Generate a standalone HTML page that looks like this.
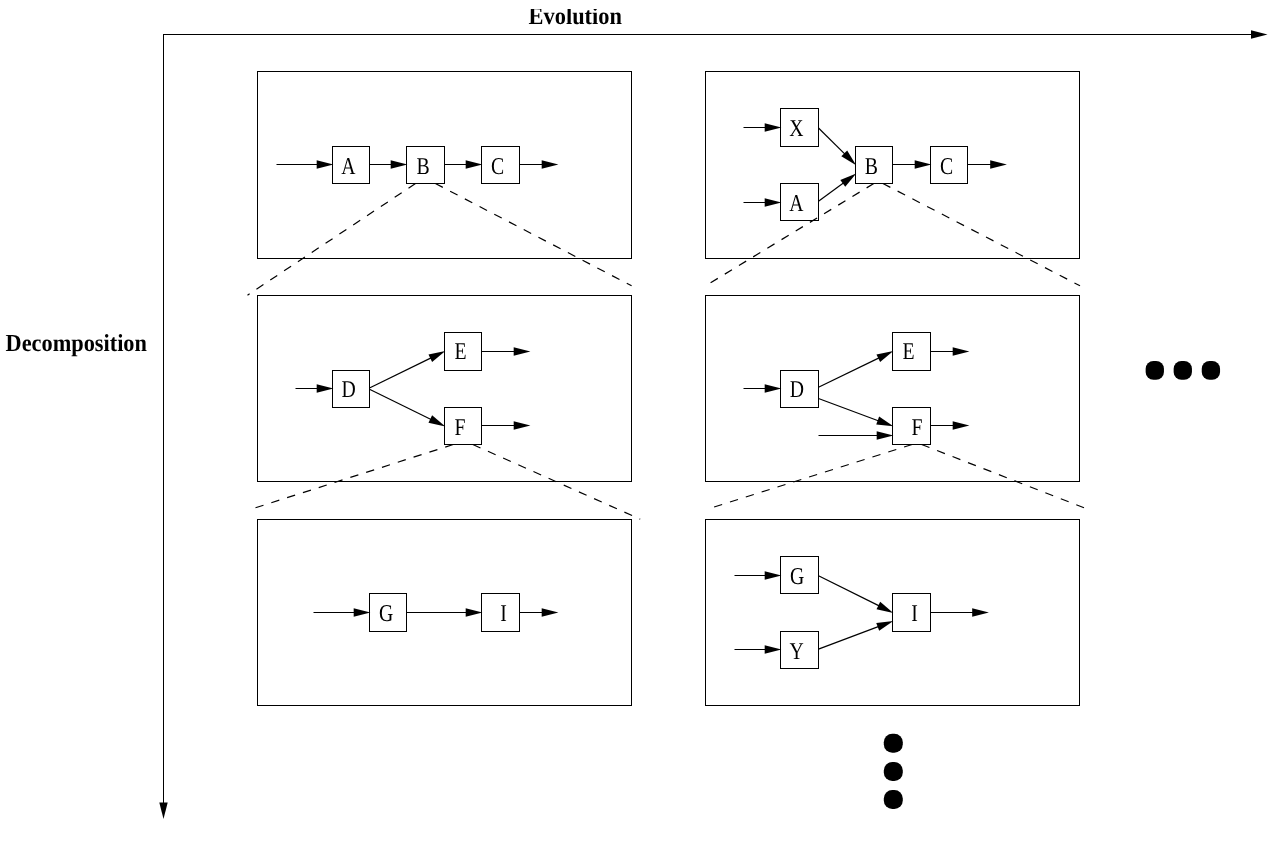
<!DOCTYPE html>
<html><head><meta charset="utf-8"><title>Evolution / Decomposition</title>
<style>
html,body{margin:0;padding:0;background:#fff;}
body{width:1275px;height:853px;overflow:hidden;}
svg{display:block;will-change:transform;}
svg text{font-family:"Liberation Serif",serif;fill:#000;stroke:none;}
</style></head><body>
<svg width="1275" height="853" viewBox="0 0 1275 853" stroke="#000" stroke-width="1" fill="none">
<defs><clipPath id="evc"><rect x="500" y="9" width="160" height="30"/></clipPath></defs>
<rect x="0" y="0" width="1275" height="853" fill="#fff" stroke="none"/>
<line x1="163.5" y1="34.5" x2="1253" y2="34.5" />
<polygon points="1267.5,34.5 1251,30.2 1251,38.8" fill="#000" stroke="none"/>
<line x1="163.5" y1="34" x2="163.5" y2="804" />
<polygon points="163.5,819 159.3,802.5 167.7,802.5" fill="#000" stroke="none"/>
<rect x="257.5" y="71.5" width="374.0" height="187.0" fill="none"/>
<rect x="257.5" y="295.5" width="374.0" height="186.0" fill="none"/>
<rect x="257.5" y="519.5" width="374.0" height="186.0" fill="none"/>
<rect x="705.5" y="71.5" width="374.0" height="187.0" fill="none"/>
<rect x="705.5" y="295.5" width="374.0" height="186.0" fill="none"/>
<rect x="705.5" y="519.5" width="374.0" height="186.0" fill="none"/>
<rect x="332.5" y="146.5" width="37.0" height="37.0" fill="none"/>
<text transform="translate(341.20,173.70) rotate(0.03) scale(0.82,1)" font-size="24.1">A</text>
<rect x="406.5" y="146.5" width="38.0" height="37.0" fill="none"/>
<text transform="translate(416.40,173.70) rotate(0.03) scale(0.82,1)" font-size="24.1">B</text>
<rect x="481.5" y="146.5" width="38.0" height="37.0" fill="none"/>
<text transform="translate(490.90,173.70) rotate(0.03) scale(0.82,1)" font-size="24.1">C</text>
<line x1="276.5" y1="164.5" x2="318.7" y2="164.5" />
<polygon points="333.40,164.50 316.70,168.65 316.70,160.35" fill="#000" stroke="none"/>
<line x1="369.5" y1="164.5" x2="392.7" y2="164.5" />
<polygon points="407.40,164.50 390.70,168.65 390.70,160.35" fill="#000" stroke="none"/>
<line x1="444.5" y1="164.5" x2="467.7" y2="164.5" />
<polygon points="482.40,164.50 465.70,168.65 465.70,160.35" fill="#000" stroke="none"/>
<line x1="519.5" y1="164.5" x2="543.7" y2="164.5" />
<polygon points="558.40,164.50 541.70,168.65 541.70,160.35" fill="#000" stroke="none"/>
<line x1="415.5" y1="183.5" x2="247.5" y2="295.2" stroke-dasharray="8.4 8.2" stroke-width="1.2"/>
<line x1="435.4" y1="183.5" x2="631.6" y2="285.8" stroke-dasharray="8.4 8.2" stroke-width="1.2"/>
<rect x="780.5" y="108.5" width="38.0" height="38.0" fill="none"/>
<text transform="translate(789.20,135.70) rotate(0.03) scale(0.82,1)" font-size="24.1">X</text>
<rect x="780.5" y="183.5" width="38.0" height="37.0" fill="none"/>
<text transform="translate(789.20,210.70) rotate(0.03) scale(0.82,1)" font-size="24.1">A</text>
<rect x="855.5" y="146.5" width="37.0" height="37.0" fill="none"/>
<text transform="translate(864.70,173.70) rotate(0.03) scale(0.82,1)" font-size="24.1">B</text>
<rect x="930.5" y="146.5" width="37.0" height="37.0" fill="none"/>
<text transform="translate(939.90,173.70) rotate(0.03) scale(0.82,1)" font-size="24.1">C</text>
<line x1="743.5" y1="127.5" x2="766.7" y2="127.5" />
<polygon points="781.40,127.50 764.70,131.65 764.70,123.35" fill="#000" stroke="none"/>
<line x1="743.5" y1="202.5" x2="766.7" y2="202.5" />
<polygon points="781.40,202.50 764.70,206.65 764.70,198.35" fill="#000" stroke="none"/>
<line x1="818.5" y1="128" x2="845.68" y2="154.81"  stroke-width="1.2"/>
<polygon points="856.14,165.13 841.34,156.36 847.17,150.45" fill="#000" stroke="none"/>
<line x1="818.5" y1="201.3" x2="844.4" y2="182.19"  stroke-width="1.2"/>
<polygon points="856.22,173.47 845.25,186.72 840.32,180.04" fill="#000" stroke="none"/>
<line x1="892.5" y1="164.5" x2="916.7" y2="164.5" />
<polygon points="931.40,164.50 914.70,168.65 914.70,160.35" fill="#000" stroke="none"/>
<line x1="967.5" y1="164.5" x2="992.2" y2="164.5" />
<polygon points="1006.90,164.50 990.20,168.65 990.20,160.35" fill="#000" stroke="none"/>
<line x1="873.8" y1="183.5" x2="710.2" y2="283" stroke-dasharray="8.4 8.2" stroke-width="1.2"/>
<line x1="882.9" y1="183.5" x2="1080" y2="285.8" stroke-dasharray="8.4 8.2" stroke-width="1.2"/>
<rect x="332.5" y="370.5" width="37.0" height="37.0" fill="none"/>
<text transform="translate(341.40,397.10) rotate(0.03) scale(0.82,1)" font-size="24.1">D</text>
<rect x="444.5" y="332.5" width="37.0" height="38.0" fill="none"/>
<text transform="translate(454.40,359.40) rotate(0.03) scale(0.82,1)" font-size="24.1">E</text>
<rect x="444.5" y="407.5" width="37.0" height="37.0" fill="none"/>
<text transform="translate(454.40,434.70) rotate(0.03) scale(0.82,1)" font-size="24.1">F</text>
<line x1="295.5" y1="388.5" x2="318.7" y2="388.5" />
<polygon points="333.40,388.50 316.70,392.65 316.70,384.35" fill="#000" stroke="none"/>
<line x1="369.5" y1="388" x2="432.1" y2="357.37"  stroke-width="1.2"/>
<polygon points="445.31,350.90 432.13,361.97 428.48,354.52" fill="#000" stroke="none"/>
<line x1="369.5" y1="389.3" x2="432.1" y2="419.93"  stroke-width="1.2"/>
<polygon points="445.31,426.40 428.48,422.78 432.13,415.33" fill="#000" stroke="none"/>
<line x1="481.5" y1="351.5" x2="515.7" y2="351.5" />
<polygon points="530.40,351.50 513.70,355.65 513.70,347.35" fill="#000" stroke="none"/>
<line x1="481.5" y1="425.5" x2="515.7" y2="425.5" />
<polygon points="530.40,425.50 513.70,429.65 513.70,421.35" fill="#000" stroke="none"/>
<line x1="453.2" y1="444.5" x2="255.5" y2="507.8" stroke-dasharray="8.4 8.2" stroke-width="1.2"/>
<line x1="472.8" y1="444.5" x2="640.2" y2="519.2" stroke-dasharray="8.4 8.2" stroke-width="1.2"/>
<rect x="780.5" y="370.5" width="38.0" height="37.0" fill="none"/>
<text transform="translate(789.70,397.10) rotate(0.03) scale(0.82,1)" font-size="24.1">D</text>
<rect x="892.5" y="332.5" width="38.0" height="38.0" fill="none"/>
<text transform="translate(902.40,359.40) rotate(0.03) scale(0.82,1)" font-size="24.1">E</text>
<rect x="892.5" y="407.5" width="38.0" height="37.0" fill="none"/>
<text transform="translate(911.40,434.70) rotate(0.03) scale(0.82,1)" font-size="24.1">F</text>
<line x1="743.5" y1="388.5" x2="766.7" y2="388.5" />
<polygon points="781.40,388.50 764.70,392.65 764.70,384.35" fill="#000" stroke="none"/>
<line x1="818.5" y1="387.3" x2="880.09" y2="357.34"  stroke-width="1.2"/>
<polygon points="893.31,350.91 880.11,361.94 876.48,354.48" fill="#000" stroke="none"/>
<line x1="818.5" y1="398.5" x2="879.56" y2="421.19"  stroke-width="1.2"/>
<polygon points="893.34,426.31 876.24,424.39 879.14,416.61" fill="#000" stroke="none"/>
<line x1="818.5" y1="435.5" x2="878.7" y2="435.5" />
<polygon points="893.40,435.50 876.70,439.65 876.70,431.35" fill="#000" stroke="none"/>
<line x1="930.5" y1="351.5" x2="954.7" y2="351.5" />
<polygon points="969.40,351.50 952.70,355.65 952.70,347.35" fill="#000" stroke="none"/>
<line x1="930.5" y1="425.5" x2="954.7" y2="425.5" />
<polygon points="969.40,425.50 952.70,429.65 952.70,421.35" fill="#000" stroke="none"/>
<line x1="912.1" y1="444.5" x2="712.8" y2="507.4" stroke-dasharray="8.4 8.2" stroke-width="1.2"/>
<line x1="921.6" y1="444.5" x2="1084" y2="507.8" stroke-dasharray="8.4 8.2" stroke-width="1.2"/>
<rect x="369.5" y="593.5" width="37.0" height="38.0" fill="none"/>
<text transform="translate(378.90,620.70) rotate(0.03) scale(0.82,1)" font-size="24.1">G</text>
<rect x="481.5" y="593.5" width="38.0" height="38.0" fill="none"/>
<text transform="translate(500.20,620.70) rotate(0.03) scale(0.82,1)" font-size="24.1">I</text>
<line x1="313.5" y1="612.5" x2="355.7" y2="612.5" />
<polygon points="370.40,612.50 353.70,616.65 353.70,608.35" fill="#000" stroke="none"/>
<line x1="406.5" y1="612.5" x2="467.7" y2="612.5" />
<polygon points="482.40,612.50 465.70,616.65 465.70,608.35" fill="#000" stroke="none"/>
<line x1="519.5" y1="612.5" x2="543.7" y2="612.5" />
<polygon points="558.40,612.50 541.70,616.65 541.70,608.35" fill="#000" stroke="none"/>
<rect x="780.5" y="556.5" width="38.0" height="37.0" fill="none"/>
<text transform="translate(789.90,583.70) rotate(0.03) scale(0.82,1)" font-size="24.1">G</text>
<rect x="780.5" y="631.5" width="38.0" height="37.0" fill="none"/>
<text transform="translate(789.40,658.70) rotate(0.03) scale(0.82,1)" font-size="24.1">Y</text>
<rect x="892.5" y="593.5" width="38.0" height="38.0" fill="none"/>
<text transform="translate(911.20,620.70) rotate(0.03) scale(0.82,1)" font-size="24.1">I</text>
<line x1="734.5" y1="575.5" x2="766.7" y2="575.5" />
<polygon points="781.40,575.50 764.70,579.65 764.70,571.35" fill="#000" stroke="none"/>
<line x1="734.5" y1="649.5" x2="766.7" y2="649.5" />
<polygon points="781.40,649.50 764.70,653.65 764.70,645.35" fill="#000" stroke="none"/>
<line x1="818.5" y1="575.8" x2="880.14" y2="606.37"  stroke-width="1.2"/>
<polygon points="893.31,612.90 876.50,609.20 880.19,601.76" fill="#000" stroke="none"/>
<line x1="818.5" y1="649.1" x2="879.59" y2="626.07"  stroke-width="1.2"/>
<polygon points="893.34,620.88 879.18,630.66 876.25,622.89" fill="#000" stroke="none"/>
<line x1="930.5" y1="612.5" x2="974.2" y2="612.5" />
<polygon points="988.90,612.50 972.20,616.65 972.20,608.35" fill="#000" stroke="none"/>
<rect x="1145.65" y="360.90" width="18.3" height="18.8" rx="7.8" ry="7.8" fill="#000" stroke="none"/>
<rect x="1173.65" y="360.90" width="18.3" height="18.8" rx="7.8" ry="7.8" fill="#000" stroke="none"/>
<rect x="1201.75" y="360.90" width="18.3" height="18.8" rx="7.8" ry="7.8" fill="#000" stroke="none"/>
<rect x="883.8" y="733.8" width="19" height="19" rx="8.5" ry="8.5" fill="#000" stroke="none"/>
<rect x="883.8" y="762.0" width="19" height="19" rx="8.5" ry="8.5" fill="#000" stroke="none"/>
<rect x="883.8" y="790.0" width="19" height="19" rx="8.5" ry="8.5" fill="#000" stroke="none"/>
<g clip-path="url(#evc)"><text transform="translate(528.6,24) rotate(0.03)" font-size="24.6" font-weight="bold" textLength="93.3" lengthAdjust="spacingAndGlyphs">Evolution</text></g>
<text transform="translate(5.6,351) rotate(0.03)" font-size="24.6" font-weight="bold" textLength="141.3" lengthAdjust="spacingAndGlyphs">Decomposition</text>
</svg>
</body></html>
